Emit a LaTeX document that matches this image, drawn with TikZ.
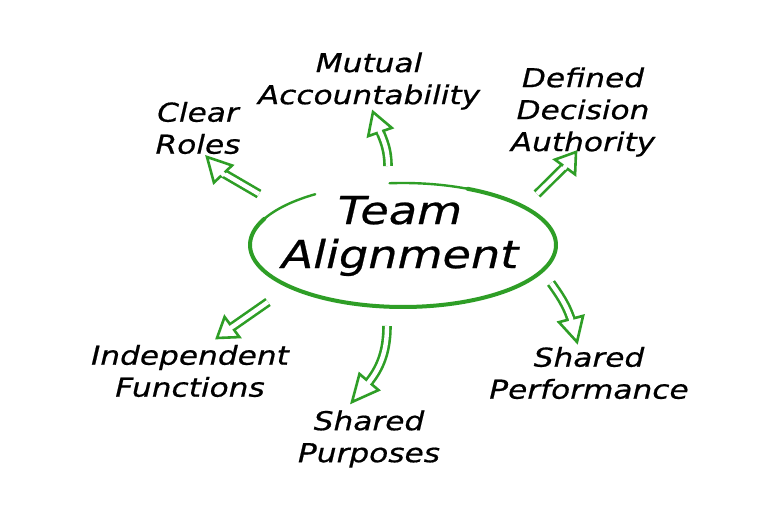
\documentclass[tikz,border=0pt]{standalone}
\usepackage{fontspec}
\newfontfamily\hand[FakeStretch=1.2,FakeBold=0.6]{DejaVu Sans}
\usetikzlibrary{calc}
\definecolor{agreen}{RGB}{46,158,38}
\tikzset{
  lbl/.style={font=\hand\itshape\fontsize{26}{32}\selectfont, align=center, inner sep=0pt, text=black},
  title/.style={font=\hand\itshape\fontsize{38.5}{44}\selectfont, align=center, inner sep=0pt, text=black},
  arrowshaft/.style={draw=agreen, line width=2.6pt, double=white, double distance=4.4pt, line cap=butt},
  arrowhead/.style={draw=agreen, fill=white, line width=2.6pt, line join=miter},
  ellstroke/.style={draw=agreen, line cap=round, line join=round}
}
\newcommand\hollowhead[2]{%
  \filldraw[arrowhead] ($(#1)!12.5pt!90:(#2)$) -- (#2) -- ($(#1)!12.5pt!-90:(#2)$) -- cycle;
  \draw[white, line width=4.4pt, line cap=butt] ($(#1)!-2pt!(#2)$) -- ($(#1)!3pt!(#2)$);
}
\begin{document}
\begin{tikzpicture}[x=1pt,y=-1pt]
\useasboundingbox (0,0) rectangle (768,518);
\fill[white] (0,0) rectangle (768,518);

% ellipse (hand drawn)
\draw[ellstroke, line width=2.4pt] plot[domain=-235:95, samples=140, smooth] ({403+153*cos(\x)}, {245-62*sin(\x)});
\draw[ellstroke, line width=4pt] plot[domain=-205:65, samples=120, smooth] ({403+153*cos(\x)}, {245-62*sin(\x)});

% texts
\node[title] (team) at (400,236) {Team\\Alignment};
\node[lbl] (clear) at (198,128) {Clear\\Roles};
\node[lbl] (mutual) at (369,81) {Mutual\\Accountability};
\node[lbl] (defined) at (583,112) {Defined\\Decision\\Authority};
\node[lbl] (indep) at (190,371) {Independent\\Functions};
\node[lbl] (purp) at (369,439) {Shared\\Purposes};
\node[lbl] (perf) at (589,373) {Shared\\Performance};

% arrow coordinates
\coordinate (a1) at (259,194); \coordinate (b1) at (223,174); \coordinate (t1) at (207,157);
\coordinate (a2) at (388,166); \coordinate (b2) at (380,132); \coordinate (t2) at (373,112);
\coordinate (a3) at (537,194); \coordinate (b3) at (565,167); \coordinate (t3) at (576,152);
\coordinate (a4) at (551,283); \coordinate (b4) at (571,319); \coordinate (t4) at (577,342);
\coordinate (a5) at (387,326); \coordinate (b5) at (369,382); \coordinate (t5) at (352,402);
\coordinate (a6) at (268,302); \coordinate (b6) at (232,327); \coordinate (t6) at (217,338);

% shafts
\draw[arrowshaft] (a1) -- ($(b1)!3pt!(t1)$);
\draw[arrowshaft] (a2) .. controls (388,150) and (384,141) .. ($(b2)!3pt!(t2)$);
\draw[arrowshaft] (a3) -- ($(b3)!3pt!(t3)$);
\draw[arrowshaft] (a4) .. controls (558,293) and (567,305) .. ($(b4)!3pt!(t4)$);
\draw[arrowshaft] (a5) .. controls (387,350) and (381,368) .. ($(b5)!3pt!(t5)$);
\draw[arrowshaft] (a6) -- ($(b6)!3pt!(t6)$);

% heads
\hollowhead{b1}{t1}
\hollowhead{b2}{t2}
\hollowhead{b3}{t3}
\hollowhead{b4}{t4}
\hollowhead{b5}{t5}
\hollowhead{b6}{t6}
\end{tikzpicture}
\end{document}
